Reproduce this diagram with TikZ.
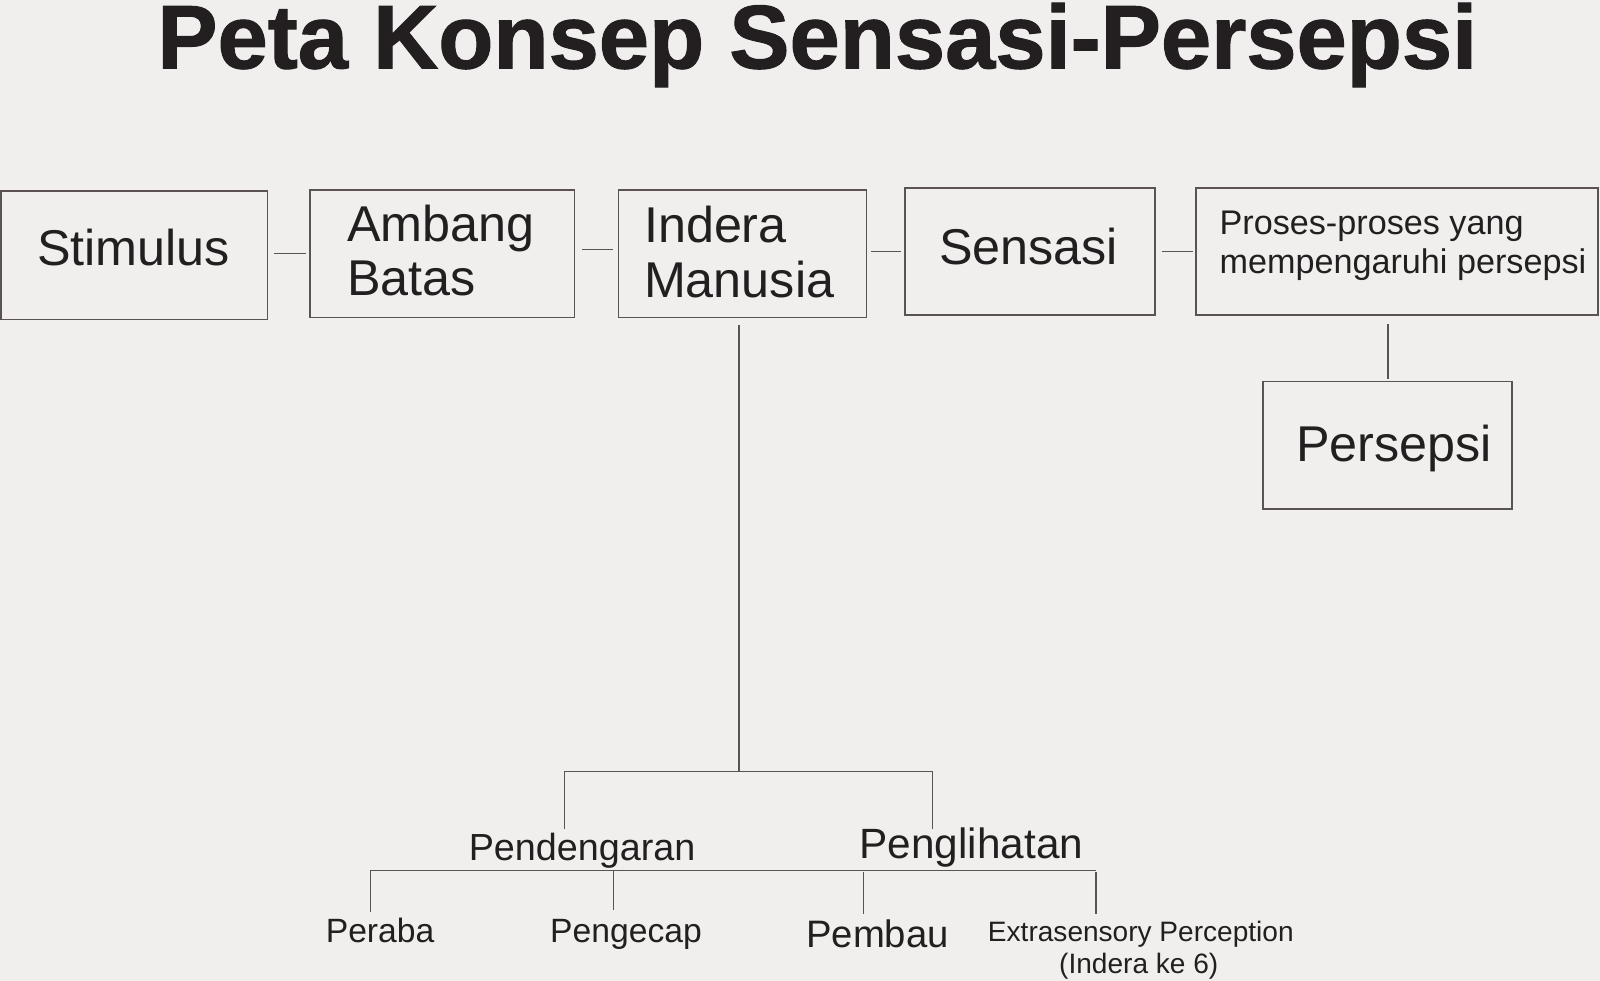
\documentclass[tikz,border=0pt]{standalone}
\usepackage{fontspec}
\setmainfont{Liberation Sans}
\definecolor{bg}{HTML}{F1EFEE}
\definecolor{ink}{HTML}{231F20}
\definecolor{ln}{HTML}{5B5351}
\newcommand{\fs}[1]{\fontsize{#1}{#1}\selectfont}
\begin{document}
\begin{tikzpicture}[x=1pt,y=-1pt,
  box/.style={draw=ln,line width=1.6pt,inner sep=0pt,fill=none},
  txt/.style={text=ink,inner sep=0pt},
  big/.style={txt,font=\fs{49.3}},
  link/.style={draw=ln,line width=1.5pt}]
\useasboundingbox[fill=bg] (0,0) rectangle (1568,961);
% title
\node[txt,anchor=base,font=\bfseries\fs{88.5}\addfontfeature{FakeBold=1.2}] (title) at (801,67) {Peta Konsep Sensasi-Persepsi};
% boxes
\node[box,minimum width=261,minimum height=126] (stim) at (131.5,250) {};
\node[box,minimum width=259,minimum height=125] (amb) at (433.5,248.5) {};
\node[box,minimum width=243,minimum height=125] (ind) at (727.5,248.5) {};
\node[box,minimum width=245,minimum height=125] (sens) at (1009.5,246.5) {};
\node[box,minimum width=394,minimum height=125] (pros) at (1369,246.5) {};
\node[box,minimum width=244,minimum height=125] (pers) at (1360,436.5) {};
% box texts
\node[big,anchor=base] (stimT) at (131,260) {Stimulus};
\node[big,anchor=base west] (ambA) at (340,237) {Ambang};
\node[big,anchor=base west] (ambB) at (340,290) {Batas};
\node[big,anchor=base west] (indA) at (631,238) {Indera};
\node[big,anchor=base west] (indB) at (631,292) {Manusia};
\node[big,anchor=base] (sensT) at (1008,259) {Sensasi};
\node[txt,font=\fs{33.5},anchor=base west] (prosA) at (1195,230) {Proses-proses yang};
\node[txt,font=\fs{33.5},anchor=base west] (prosB) at (1195,268) {mempengaruhi persepsi};
\node[big,anchor=base] (persT) at (1366,452) {Persepsi};
% connectors between boxes
\draw[link] ([xshift=6pt]stim.east |- amb.west) -- ([xshift=-3pt]amb.west);
\draw[link] ([xshift=7pt,yshift=4pt]amb.east) -- ([xshift=-4pt,yshift=4pt]ind.west);
\draw[link] ([xshift=4pt]ind.east |- sens.west) -- ([xshift=-3pt]sens.west);
\draw[link] ([xshift=6pt]sens.east) -- ([xshift=-2pt]pros.west);
\draw[link] ([yshift=-8pt]pros.south -| pers.north) -- ([yshift=2pt]pers.north);
% tree labels
\node[txt,anchor=base,font=\fs{37}] (pend) at (570.5,843) {Pendengaran};
\node[txt,anchor=base,font=\fs{41.5}] (peng) at (952,841) {Penglihatan};
\node[txt,anchor=base,font=\fs{33}] (per) at (372.5,924) {Peraba};
\node[txt,anchor=base,font=\fs{33}] (pec) at (613.5,924) {Pengecap};
\node[txt,anchor=base,font=\fs{37.5}] (pem) at (860,929) {Pembau};
\node[txt,anchor=base,font=\fs{27.5}] (esp) at (1118,923) {Extrasensory Perception};
\node[txt,anchor=base,font=\fs{27.5}] (esp2) at (1116,954) {(Indera ke 6)};
% tree coordinates
\coordinate (j0) at (724,756);
\coordinate (jL) at (553,756);
\coordinate (jR) at (914,756);
\coordinate (eL) at (553,812);
\coordinate (eR) at (914,812);
\coordinate (bL) at (363,853);
\coordinate (bR) at (1074,853);
\coordinate (b2) at (601,853);
\coordinate (b3) at (846,855);
\coordinate (b4) at (1074,855);
\coordinate (t1) at (363,894);
\coordinate (t2) at (601,892);
\coordinate (t3) at (846,896);
\coordinate (t4) at (1074,896);
% tree connectors
\draw[link] ([yshift=-7pt]ind.south -| j0) -- (j0);
\draw[link] (eL) -- (jL) -- (jR) -- (eR);
\draw[link] (t1) -- (bL) -- (bR);
\draw[link] (b2) -- (t2);
\draw[link] (b3) -- (t3);
\draw[link] (b4) -- (t4);
\end{tikzpicture}
\end{document}
